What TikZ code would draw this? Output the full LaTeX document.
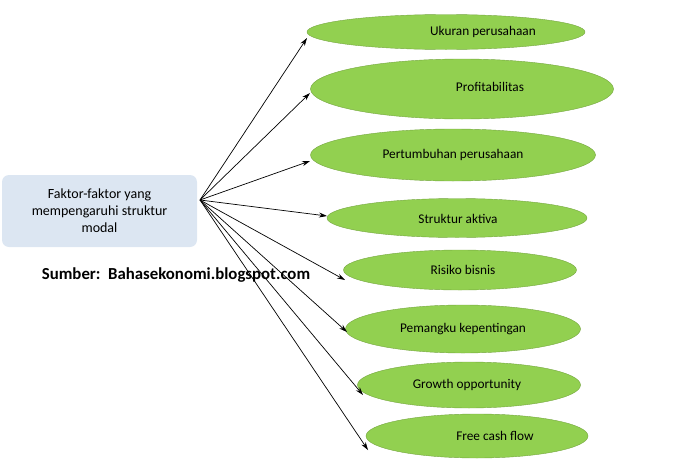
\documentclass[tikz,border=0pt]{standalone}
\usepackage{fontspec}
\setmainfont{Carlito}
\usetikzlibrary{shapes.geometric,arrows.meta}
\definecolor{eg}{HTML}{92D050}
\definecolor{bx}{HTML}{DCE6F2}
\tikzset{
  el/.style={ellipse,fill=eg,draw=eg!80!black,line width=0.4pt,inner sep=0pt},
  lb/.style={font=\fontsize{13.3}{15}\selectfont,inner sep=0pt},
  ar/.style={-{Stealth[length=8pt,width=5pt]},line width=0.7pt}
}
\begin{document}
\begin{tikzpicture}[x=1pt,y=-1pt]
\useasboundingbox (0,0) rectangle (675,466);
\node[rounded corners=7pt,fill=bx,minimum width=195pt,minimum height=72pt,align=center,font=\fontsize{14}{17}\selectfont] (src) at (99.5,211) {Faktor-faktor yang\\mempengaruhi struktur\\modal};
\coordinate (o) at (200,200);
\node[el,minimum width=278pt,minimum height=35pt] (e1) at (446,32) {};
\node[el,minimum width=303pt,minimum height=60pt] (e2) at (462,89) {};
\node[el,minimum width=285pt,minimum height=52pt] (e3) at (453,155) {};
\node[el,minimum width=260pt,minimum height=39pt] (e4) at (457,218) {};
\node[el,minimum width=233pt,minimum height=40pt] (e5) at (460,270) {};
\node[el,minimum width=235pt,minimum height=48pt] (e6) at (463,329) {};
\node[el,minimum width=223pt,minimum height=46pt] (e7) at (469,385) {};
\node[el,minimum width=222pt,minimum height=44pt] (e8) at (477,436) {};
\node[lb] at (483,32) {Ukuran perusahaan};
\node[lb] at (490,87) {Profitabilitas};
\node[lb] at (453,155) {Pertumbuhan perusahaan};
\node[lb] at (458,219) {Struktur aktiva};
\node[lb] at (463,270) {Risiko bisnis};
\node[lb] at (463,329) {Pemangku kepentingan};
\node[lb] at (467,385) {Growth opportunity};
\node[lb] at (495,436) {Free cash flow};
\node[font=\bfseries\fontsize{16.8}{19}\selectfont] (s) at (176,275) {Sumber:\ \ Bahasekonomi.blogspot.com};
\coordinate (t1) at (307,38);
\coordinate (t2) at (310,93);
\coordinate (t3) at (310,161);
\coordinate (t4) at (327,216);
\coordinate (t5) at (345,280);
\coordinate (t6) at (347,332);
\coordinate (t7) at (363,395);
\coordinate (t8) at (368,450);
\foreach \i in {1,...,8} \draw[ar] (o) -- (t\i);
\end{tikzpicture}
\end{document}
